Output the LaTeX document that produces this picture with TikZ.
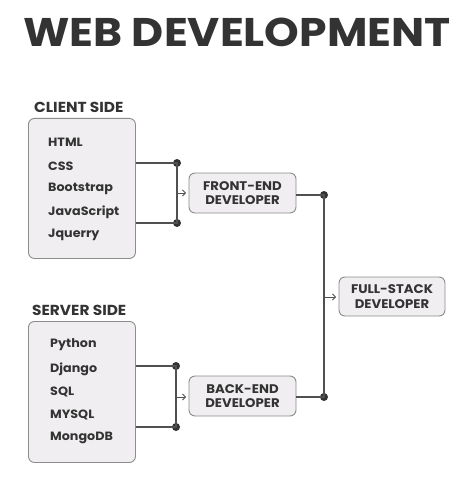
\documentclass[tikz,border=0pt]{standalone}
\usepackage{fontspec}
\setmainfont{Poppins}[FakeStretch=1.06]
\usetikzlibrary{arrows.meta}
\definecolor{ink}{HTML}{333333}
\definecolor{wire}{HTML}{505050}
\definecolor{boxfill}{HTML}{F0EEF0}
\definecolor{boxline}{HTML}{8C8C8C}
\begin{document}
\begin{tikzpicture}[x=1pt,y=-1pt,
  panel/.style={draw=boxline,fill=boxfill,line width=0.9pt,rounded corners=6pt},
  rolebox/.style={draw=boxline,fill=boxfill,line width=0.9pt,rounded corners=6pt,
     minimum width=107pt,minimum height=40pt,align=center,font=\bfseries\fontsize{12.5}{14.5}\selectfont,text=ink,inner sep=0pt},
  item/.style={anchor=west,font=\bfseries\fontsize{12}{14}\selectfont,text=ink,inner sep=0pt},
  heading/.style={anchor=west,font=\bfseries\fontsize{14.5}{16}\selectfont,text=ink,inner sep=0pt},
  wirel/.style={draw=wire,line width=1.1pt},
  arr/.style={draw=wire,line width=0.9pt,-{Straight Barb[length=3pt,width=6pt]}},
  dot/.style={circle,fill=ink,inner sep=0pt,minimum size=8pt}]
\useasboundingbox (0,0) rectangle (474,481);
\fill[white] (0,0) rectangle (474,481);
\node[text=ink,font=\bfseries\fontsize{40}{42}\selectfont,inner sep=0pt] (title) at (237,32) {\scalebox{1.04}[1]{WEB DEVELOPMENT}};

% client
\node[heading] (ch) at (34,107) {CLIENT SIDE};
\node[panel,minimum width=107pt,minimum height=140pt,anchor=north west] (cbox) at (28,118) {};
\node[item] (i1) at (48,142) {HTML};
\node[item] (i2) at (48,166) {CSS};
\node[item] (i3) at (48,189) {Bootstrap};
\node[item] (i4) at (48,212) {JavaScript};
\node[item] (i5) at (48,235) {Jquerry};

% server
\node[heading] (sh) at (32,310) {SERVER SIDE};
\node[panel,minimum width=107pt,minimum height=141pt,anchor=north west] (sbox) at (28,321) {};
\node[item] (j1) at (50,345) {Python};
\node[item] (j2) at (50,369) {Django};
\node[item] (j3) at (50,392) {SQL};
\node[item] (j4) at (50,415) {MYSQL};
\node[item] (j5) at (50,438) {MongoDB};

% role boxes
\node[rolebox] (fe) at (242.5,193) {FRONT-END\\DEVELOPER};
\node[rolebox] (be) at (242.5,396) {BACK-END\\DEVELOPER};
\node[rolebox,minimum width=106pt,minimum height=39pt] (fs) at (392,296.5) {FULL-STACK\\DEVELOPER};

% dots
\node[dot] (d1) at (177,163) {};
\node[dot] (d2) at (177,223) {};
\node[dot] (d3) at (176,366) {};
\node[dot] (d4) at (176,427) {};
\node[dot] (d5) at (324,195) {};
\node[dot] (d6) at (324,397) {};
\coordinate (a1) at (177,193);
\coordinate (a2) at (176,397);
\coordinate (a3) at (324,297);

% wires
\draw[wirel] (cbox.east |- d1) -- (d1.center) -- (d2.center) -- (cbox.east |- d2);
\draw[wirel] (sbox.east |- d3) -- (d3.center) -- (d4.center) -- (sbox.east |- d4);
\draw[wirel] (fe.east |- d5) -- (d5.center) -- (d6.center) -- (be.east |- d6);
\draw[arr] (a1) -- ([xshift=-2.5pt]fe.west |- a1);
\draw[arr] (a2) -- ([xshift=-2.5pt]be.west |- a2);
\draw[arr] (a3) -- ([xshift=-2.5pt]fs.west |- a3);
\end{tikzpicture}
\end{document}
